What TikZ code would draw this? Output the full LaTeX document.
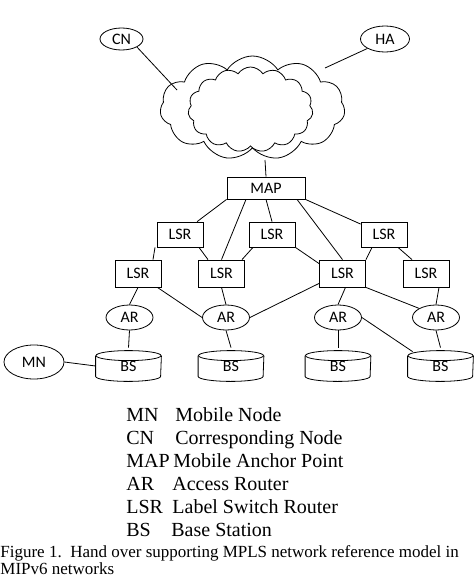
\documentclass[tikz,border=0pt]{standalone}
\usepackage{fontspec}
\setmainfont{Liberation Serif}
\newfontfamily\nodefont{Carlito}
\usetikzlibrary{shapes.symbols,shapes.geometric}
\begin{document}
\begin{tikzpicture}[x=1pt,y=-1pt,line width=0.8pt,
  lbl/.style={font=\nodefont\fontsize{16}{19}\selectfont},
  box/.style={lbl,draw,rectangle,minimum width=46pt,minimum height=26pt,inner sep=0pt},
  oval/.style={lbl,draw,ellipse,inner sep=0pt},
  bsnode/.style={lbl,rectangle,minimum width=65pt,minimum height=30pt,inner sep=0pt,text depth=0pt,yshift=-3pt},
  puffy/.style={draw,fill=white,cloud,cloud ignores aspect,inner sep=0pt},
  legend/.style={anchor=base west,inner sep=0pt,font=\fontsize{20}{23}\selectfont},
  capt/.style={anchor=base west,inner sep=0pt,font=\fontsize{17}{20}\selectfont}]
\useasboundingbox (0,0) rectangle (474,578);

% cloud
\node[puffy,cloud puffs=11,cloud puff arc=115,minimum width=185pt,minimum height=104pt] (cloud) at (252.5,108) {};
\node[puffy,cloud puffs=15,cloud puff arc=115,minimum width=125pt,minimum height=85pt] (cloudin) at (250.5,109.5) {};

% outer nodes
\node[oval,minimum width=43pt,minimum height=22pt] (cn) at (121.5,39) {CN};
\node[oval,minimum width=49pt,minimum height=26pt] (ha) at (385,39) {HA};
\node[box,minimum width=78pt,minimum height=22pt] (map) at (266,188) {MAP};

\coordinate (cnend) at (177,90);
\coordinate (haend) at (325,68);
\coordinate (mapend) at (265,160);

% LSR rows
\node[box,minimum height=25pt] (lsr1) at (180,234.5) {LSR};
\node[box,minimum height=25pt] (lsr2) at (272,234.5) {LSR};
\node[box,minimum height=25pt] (lsr3) at (384,234.5) {LSR};
\node[box,minimum height=27pt] (lsr4) at (138,273.5) {LSR};
\node[box,minimum height=27pt] (lsr5) at (221.5,273.5) {LSR};
\node[box,minimum height=27pt] (lsr6) at (342.5,273.5) {LSR};
\node[box,minimum height=27pt] (lsr7) at (426,273.5) {LSR};

% AR
\node[oval,minimum width=47pt,minimum height=25pt] (ar1) at (129.5,317.5) {AR};
\node[oval,minimum width=47pt,minimum height=25pt] (ar2) at (226,317.5) {AR};
\node[oval,minimum width=47pt,minimum height=25pt] (ar3) at (338,317.5) {AR};
\node[oval,minimum width=47pt,minimum height=25pt] (ar4) at (436,317.5) {AR};

% BS
\node[bsnode] (bs1) at (128.5,363) {BS};
\node[bsnode] (bs2) at (231,363) {BS};
\node[bsnode] (bs3) at (338,363) {BS};
\node[bsnode] (bs4) at (440.5,363) {BS};
\foreach \n in {bs1,bs2,bs3,bs4}{
  \draw ([yshift=-5pt]\n.north) ellipse [x radius=32.5pt,y radius=5pt];
  \draw ([yshift=-5pt]\n.north west) -- ([yshift=5pt]\n.south west)
    arc[start angle=180,end angle=360,x radius=32.5pt,y radius=5pt]
    -- ([yshift=-5pt]\n.north east);
}

\node[oval,minimum width=60pt,minimum height=34pt] (mn) at (34,362) {MN};

% connectors
\draw (cn.south east) -- (cnend);
\draw (ha.south west) -- (haend);
\draw (mapend) -- (map.north);

\draw (map.south west) -- (lsr1);
\draw ([xshift=-20pt]map.south) -- (lsr5.north);
\draw (map.south) -- (lsr2.north);
\draw ([xshift=31pt]map.south) -- (lsr6.north);
\draw (map.south east) -- (lsr3);

\draw ([xshift=-25pt]lsr1.south) -- ([xshift=15pt]lsr4.north);
\draw ([xshift=19pt]lsr1.south) -- ([xshift=-13.5pt]lsr5.north);
\draw ([xshift=-19pt]lsr2.south) -- ([xshift=20.5pt]lsr5.north);
\draw (lsr2.south east) -- ([yshift=-4pt]lsr6.north west);
\draw ([xshift=-12pt]lsr3.south) -- (lsr6.north east);
\draw ([xshift=14pt]lsr3.south) -- ([xshift=-14pt]lsr7.north);

\draw (lsr4.south) -- (ar1.north);
\draw ([xshift=-4pt]lsr4.south east) -- (ar2.west);
\draw (lsr5.south) -- (ar2.north);
\draw ([yshift=4pt]lsr6.south west) -- (ar2.east);
\draw ([xshift=3pt]lsr6.south) -- (ar3.north);
\draw (lsr6.south east) -- (ar4.north west);
\draw ([xshift=13pt]lsr7.south) -- (ar4.north);

\draw (ar1.south) -- ([yshift=3pt]bs1.north);
\draw (ar2.south) -- ([yshift=3pt]bs2.north);
\draw (ar3.south) -- ([yshift=3pt]bs3.north);
\draw (ar3.east) -- ([xshift=5pt,yshift=-1pt]bs4.north west);
\draw (ar4.south) -- ([yshift=3pt]bs4.north);
\draw (mn.east) -- (bs1.west);

% legend
\node[legend] (l1a) at (126,421) {MN};
\node[legend] (l1b) at (175,421) {Mobile Node};
\node[legend] (l2a) at (126,444) {CN};
\node[legend] (l2b) at (175,444) {Corresponding Node};
\node[legend] (l3a) at (126,467) {MAP};
\node[legend] (l3b) at (173,467) {Mobile Anchor Point};
\node[legend] (l4a) at (126,490) {AR};
\node[legend] (l4b) at (172,490) {Access Router};
\node[legend] (l5a) at (126,513) {LSR};
\node[legend] (l5b) at (172,513) {Label Switch Router};
\node[legend] (l6a) at (126,536) {BS};
\node[legend] (l6b) at (171,536) {Base Station};

% caption
\node[capt] (cap1) at (0,557) {Figure 1.\ \ Hand over supporting MPLS network reference model in};
\node[capt] (cap2) at (0,574) {MIPv6 networks};
\end{tikzpicture}
\end{document}
